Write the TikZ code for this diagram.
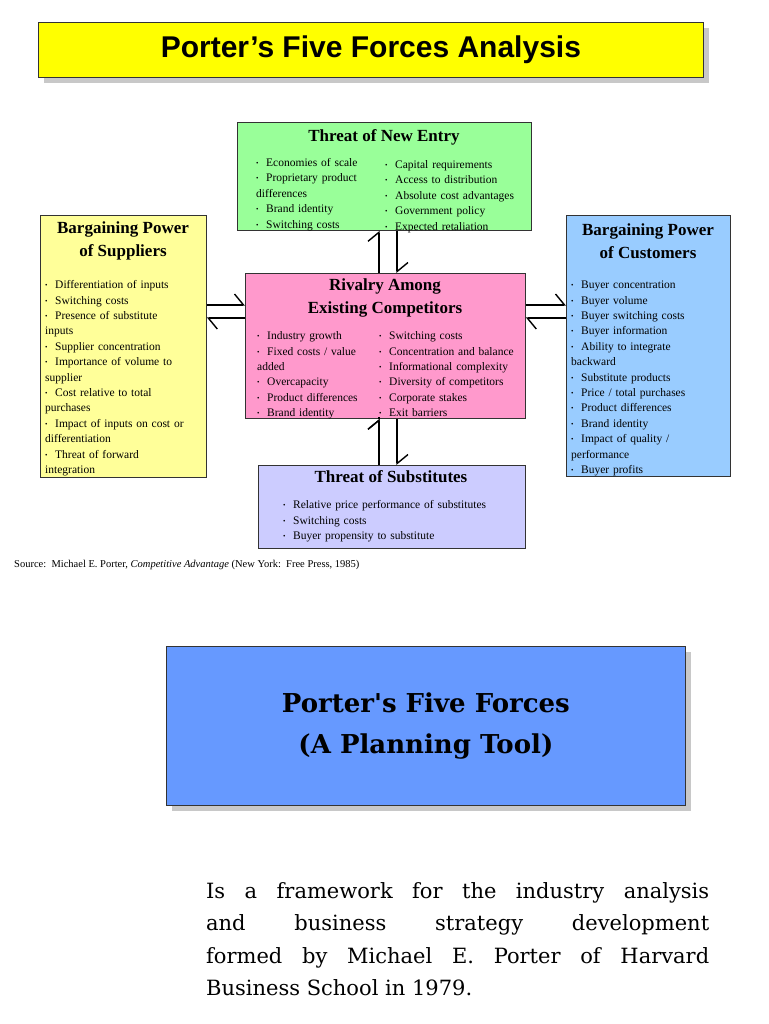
\documentclass[tikz,border=0pt]{standalone}
\usepackage{fontspec}
\setmainfont{Liberation Serif}
\newfontfamily\arialf{Liberation Sans}
\newfontfamily\dvs{DejaVu Serif}
\usetikzlibrary{arrows.meta}
\definecolor{ttlyel}{HTML}{FFFF00}
\definecolor{entg}{HTML}{99FF99}
\definecolor{supy}{HTML}{FFFF99}
\definecolor{rivp}{HTML}{FF99CC}
\definecolor{cusb}{HTML}{99CCFF}
\definecolor{subl}{HTML}{CCCCFF}
\definecolor{bigb}{HTML}{6699FF}
\definecolor{shad}{HTML}{C8C8C8}
\newcommand{\bl}[1]{\par\hangindent=10pt\hangafter=1\noindent\makebox[10pt][l]{\raisebox{1pt}{\fontsize{7}{7}\selectfont\textbullet}}#1}
\begin{document}
\begin{tikzpicture}[x=1pt,y=-1pt,
  box/.style={draw=black!80,line width=0.8pt,anchor=north west,inner sep=0pt},
  head/.style={font=\fontsize{17}{23}\selectfont\bfseries,align=center,anchor=center},
  lst/.style={anchor=north west,inner sep=0pt,text width=160pt,font=\fontsize{11.5}{15.4}\selectfont},
  har/.style={line width=1.4pt,-{Straight Barb[left,length=9pt,width=22pt,line width=1.4pt]}}]
\useasboundingbox (0,0) rectangle (768,1024);
% title
\fill[shad] (44,28) rectangle (709,83);
\node[box,fill=ttlyel,minimum width=665pt,minimum height=55pt] (title) at (38,22) {};
\node[font=\arialf\fontsize{30}{36}\selectfont\bfseries] (titlet) at (title.center) {Porter’s Five Forces Analysis};
% boxes
\node[box,fill=entg,minimum width=294pt,minimum height=108pt] (ent) at (237,122) {};
\node[box,fill=supy,minimum width=166pt,minimum height=262pt] (sup) at (40,215) {};
\node[box,fill=rivp,minimum width=280pt,minimum height=145pt] (riv) at (245,273) {};
\node[box,fill=cusb,minimum width=164pt,minimum height=261pt] (cus) at (566,215) {};
\node[box,fill=subl,minimum width=267pt,minimum height=83pt] (sub) at (258,465) {};
% headings
\node[head] (enth) at (384,137) {Threat of New Entry};
\node[head] (suph) at (123,241) {Bargaining Power\\of Suppliers};
\node[head] (rivh) at (385,298) {Rivalry Among\\Existing Competitors};
\node[head] (cush) at (648,241) {Bargaining Power\\of Customers};
\node[head] (subh) at (391,477) {Threat of Substitutes};
% lists
\node[lst] (e1) at (256,151) {\bl{Economies of scale}\bl{Proprietary product\\differences}\bl{Brand identity}\bl{Switching costs}};
\node[lst] (e2) at (385,153) {\bl{Capital requirements}\bl{Access to distribution}\bl{Absolute cost advantages}\bl{Government policy}\bl{Expected retaliation}};
\node[lst] (s1) at (45,273) {\bl{Differentiation of inputs}\bl{Switching costs}\bl{Presence of substitute\\inputs}\bl{Supplier concentration}\bl{Importance of volume to\\supplier}\bl{Cost relative to total\\purchases}\bl{Impact of inputs on cost or\\differentiation}\bl{Threat of forward\\integration}};
\node[lst] (r1) at (257,324) {\bl{Industry growth}\bl{Fixed costs / value\\added}\bl{Overcapacity}\bl{Product differences}\bl{Brand identity}};
\node[lst] (r2) at (379,324) {\bl{Switching costs}\bl{Concentration and balance}\bl{Informational complexity}\bl{Diversity of competitors}\bl{Corporate stakes}\bl{Exit barriers}};
\node[lst] (c1) at (571,273) {\bl{Buyer concentration}\bl{Buyer volume}\bl{Buyer switching costs}\bl{Buyer information}\bl{Ability to integrate\\backward}\bl{Substitute products}\bl{Price / total purchases}\bl{Product differences}\bl{Brand identity}\bl{Impact of quality /\\performance}\bl{Buyer profits}};
\node[lst,text width=230pt] (b1) at (283,493) {\bl{Relative price performance of substitutes}\bl{Switching costs}\bl{Buyer propensity to substitute}};
% connectors
\draw[har] (riv.north -| 379,0) -- (ent.south -| 379,0);
\draw[har] (ent.south -| 397,0) -- (riv.north -| 397,0);
\draw[har] (riv.south -| 379,0) -- (riv.south -| 379,0) ;
\draw[har] (sub.north -| 379,0) -- (riv.south -| 379,0);
\draw[har] (riv.south -| 397,0) -- (sub.north -| 397,0);
\draw[har] (sup.east |- 0,305) -- (riv.west |- 0,305);
\draw[har] (riv.west |- 0,318) -- (sup.east |- 0,318);
\draw[har] (riv.east |- 0,305) -- (cus.west |- 0,305);
\draw[har] (cus.west |- 0,318) -- (riv.east |- 0,318);
% source
\node[anchor=west,inner sep=0pt,font=\fontsize{10.5}{12}\selectfont] (src) at (14,565) {Source:\ \ Michael E. Porter, \textit{Competitive Advantage} (New York:\ \ Free Press, 1985)};
% big box
\fill[shad] (172,652) rectangle (691,811);
\node[box,fill=bigb,minimum width=519pt,minimum height=159pt] (big) at (166,646) {};
\node[font=\dvs\fontsize{26}{41}\selectfont\bfseries,align=center] (bigt) at (big.center) {Porter's Five Forces\\(A Planning Tool)};
% paragraph
\node[anchor=north west,inner sep=0pt,font=\dvs\fontsize{21}{32.5}\selectfont,align=left] (para) at (206,882) {\makebox[503pt][s]{Is a framework for the industry analysis}\\\makebox[503pt][s]{and business strategy development}\\\makebox[503pt][s]{formed by Michael E. Porter of Harvard}\\Business School in 1979.};
\end{tikzpicture}
\end{document}
